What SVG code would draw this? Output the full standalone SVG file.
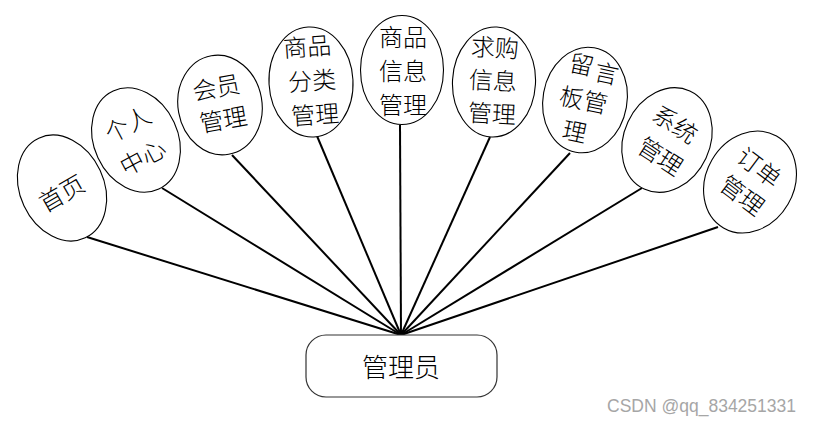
<svg xmlns="http://www.w3.org/2000/svg" width="815" height="424" viewBox="0 0 815 424">
<style>
  .bg { fill: #ffffff; }
  .node ellipse { fill: #ffffff; stroke: #000000; stroke-width: 1.1; }
  .lbl { font-family: "Noto Sans CJK SC", "Noto Sans CJK JP", sans-serif; font-size: 24px; font-weight: 300; fill: #000000; text-anchor: middle; dominant-baseline: central; }
  .conn line { stroke: #000000; stroke-width: 2; }
  .root rect { fill: #ffffff; stroke: #333333; stroke-width: 1.2; }
  .rootlbl { font-family: "Noto Sans CJK SC", "Noto Sans CJK JP", sans-serif; font-size: 26px; font-weight: 300; fill: #000000; text-anchor: middle; dominant-baseline: central; }
  .wm { font-family: "Liberation Sans", Arial, sans-serif; font-size: 17.5px; fill: #a6a6a6; }
</style>
<rect class="bg" x="0" y="0" width="815" height="424"/>

<g id="connectors" class="conn">
  <line x1="87" y1="237" x2="401" y2="335"/>
  <line x1="162" y1="188" x2="401" y2="335"/>
  <line x1="232" y1="155" x2="401" y2="335"/>
  <line x1="317" y1="136" x2="401" y2="335"/>
  <line x1="400" y1="125" x2="401" y2="335"/>
  <line x1="490" y1="137" x2="401" y2="335"/>
  <line x1="570" y1="153" x2="401" y2="335"/>
  <line x1="642" y1="188" x2="401" y2="335"/>
  <line x1="718" y1="227" x2="401" y2="335"/>
</g>

<g id="node-shouye" class="node">
  <ellipse cx="0" cy="0" rx="42" ry="55" transform="translate(62,188) rotate(-25)"/>
  <text class="lbl" x="61" y="192" transform="rotate(-30 61 192)">首页</text>
</g>

<g id="node-gerenzhongxin" class="node">
  <ellipse cx="0" cy="0" rx="42" ry="54" transform="translate(136,140) rotate(-25)"/>
  <text class="lbl" x="127" y="123" transform="rotate(-28 127 123)">个人</text>
  <text class="lbl" x="142" y="156" transform="rotate(-28 142 156)">中心</text>
</g>

<g id="node-huiyuan" class="node">
  <ellipse cx="0" cy="0" rx="42" ry="50" transform="translate(220,105) rotate(-10)"/>
  <text class="lbl" x="216" y="86" transform="rotate(-10 216 86)">会员</text>
  <text class="lbl" x="223" y="118" transform="rotate(-10 223 118)">管理</text>
</g>

<g id="node-fenlei" class="node">
  <ellipse cx="0" cy="0" rx="42" ry="55" transform="translate(311,82) rotate(-3)"/>
  <text class="lbl" x="307" y="45" transform="rotate(-4 307 45)">商品</text>
  <text class="lbl" x="312" y="79" transform="rotate(-4 312 79)">分类</text>
  <text class="lbl" x="315" y="113" transform="rotate(-4 315 113)">管理</text>
</g>

<g id="node-shangpin" class="node">
  <ellipse cx="402" cy="70" rx="41.5" ry="54.5"/>
  <text class="lbl" x="403" y="35">商品</text>
  <text class="lbl" x="403" y="69">信息</text>
  <text class="lbl" x="403" y="103">管理</text>
</g>

<g id="node-qiugou" class="node">
  <ellipse cx="0" cy="0" rx="41.5" ry="55" transform="translate(494,82) rotate(3)"/>
  <text class="lbl" x="495" y="46" transform="rotate(3 495 46)">求购</text>
  <text class="lbl" x="493" y="79" transform="rotate(3 493 79)">信息</text>
  <text class="lbl" x="492" y="112" transform="rotate(3 492 112)">管理</text>
</g>

<g id="node-liuyanban" class="node">
  <ellipse cx="0" cy="0" rx="42" ry="53" transform="translate(585,100) rotate(10)"/>
  <text class="lbl" x="582" y="63" transform="rotate(12 582 63)">留</text>
  <text class="lbl" x="607" y="72" transform="rotate(12 607 72)">言</text>
  <text class="lbl" x="572" y="96" transform="rotate(12 572 96)">板</text>
  <text class="lbl" x="596" y="101" transform="rotate(12 596 101)">管</text>
  <text class="lbl" x="575" y="130" transform="rotate(12 575 130)">理</text>
</g>

<g id="node-xitong" class="node">
  <ellipse cx="0" cy="0" rx="43" ry="54" transform="translate(667,140) rotate(25)"/>
  <text class="lbl" x="676" y="123" transform="rotate(33 676 123)">系统</text>
  <text class="lbl" x="661" y="155" transform="rotate(33 661 155)">管理</text>
</g>

<g id="node-dingdan" class="node">
  <ellipse cx="0" cy="0" rx="44" ry="53" transform="translate(750,182) rotate(30)"/>
  <text class="lbl" x="760" y="166" transform="rotate(37 760 166)">订单</text>
  <text class="lbl" x="743" y="194" transform="rotate(37 743 194)">管理</text>
</g>

<g id="node-guanliyuan" class="root">
  <rect x="306" y="335" width="191" height="62" rx="20" ry="20"/>
  <text class="rootlbl" x="401" y="365">管理员</text>
</g>

<text class="wm" x="607" y="412">CSDN @qq_834251331</text>
</svg>
